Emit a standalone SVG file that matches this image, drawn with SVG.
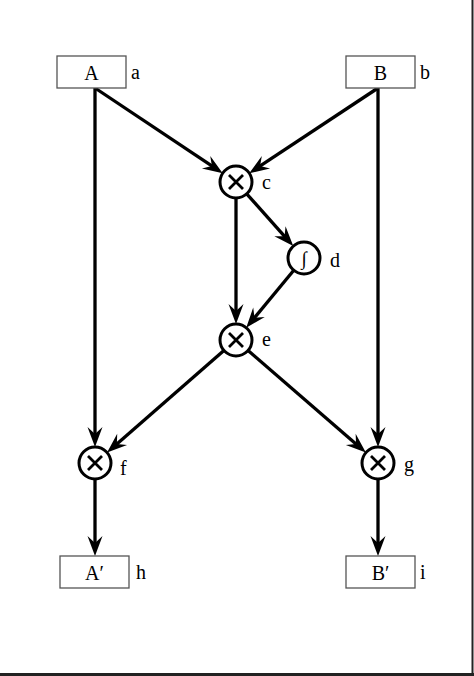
<svg xmlns="http://www.w3.org/2000/svg" width="474" height="676" viewBox="0 0 474 676">
<style>
.box{fill:#fff;stroke:#555;stroke-width:1.3}
.op{fill:#fff;stroke:#000;stroke-width:3}
.x{stroke:#000;stroke-width:2.8;fill:none}
.t{font-family:"Liberation Serif","Times New Roman",serif;font-size:20px;fill:#000}
.m{text-anchor:middle}
.c{stroke:#000;stroke-width:3.3;fill:none;marker-end:url(#ah)}
</style>
<defs>
<marker id="ah" markerUnits="userSpaceOnUse" viewBox="-11 -8 22 16" markerWidth="22" markerHeight="16" refX="0" refY="0" orient="auto">
<path d="M10,0 L-10,-7.5 L-3,0 L-10,7.5 Z" fill="#000"/>
</marker>
</defs>
<rect x="0" y="0" width="474" height="676" fill="#fff"/>
<line x1="472.5" y1="0" x2="472.5" y2="676" stroke="#222" stroke-width="2"/>
<line x1="0" y1="674.5" x2="474" y2="674.5" stroke="#222" stroke-width="3"/>
<g id="connectors">
<line class="c" x1="95" y1="88" x2="214.4" y2="167.7"/>
<line class="c" x1="378" y1="88" x2="257.6" y2="167.7"/>
<line class="c" x1="95" y1="88" x2="95" y2="437"/>
<line class="c" x1="378" y1="88" x2="378" y2="437"/>
<line class="c" x1="236" y1="198" x2="236" y2="314"/>
<line class="c" x1="246.7" y1="193.9" x2="286.6" y2="238.6"/>
<line class="c" x1="293.8" y1="270.3" x2="252.6" y2="320"/>
<line class="c" x1="223.9" y1="350.5" x2="114.6" y2="445.9"/>
<line class="c" x1="248.1" y1="350.5" x2="358.3" y2="446"/>
<line class="c" x1="95" y1="479" x2="95" y2="546"/>
<line class="c" x1="378" y1="479" x2="378" y2="546"/>
</g>
<g id="node-a">
<rect class="box" x="57" y="56" width="69" height="32"/>
<text class="t m" x="91.5" y="80">A</text>
<text class="t" x="131" y="79">a</text>
</g>
<g id="node-b">
<rect class="box" x="346" y="56" width="69" height="32"/>
<text class="t m" x="380.5" y="80">B</text>
<text class="t" x="420" y="79">b</text>
</g>
<g id="node-c">
<circle class="op" cx="236" cy="182" r="16"/>
<path class="x" d="M229,175 L243,189 M243,175 L229,189"/>
<text class="t" x="262" y="189">c</text>
</g>
<g id="node-d">
<circle class="op" cx="304" cy="258" r="16"/>
<text class="t m" x="304" y="265" style="font-size:19px">∫</text>
<text class="t" x="330" y="267">d</text>
</g>
<g id="node-e">
<circle class="op" cx="236" cy="340" r="16"/>
<path class="x" d="M229,333 L243,347 M243,333 L229,347"/>
<text class="t" x="262" y="346">e</text>
</g>
<g id="node-f">
<circle class="op" cx="95" cy="463" r="16"/>
<path class="x" d="M88,456 L102,470 M102,456 L88,470"/>
<text class="t" x="120" y="475">f</text>
</g>
<g id="node-g">
<circle class="op" cx="378" cy="463" r="16"/>
<path class="x" d="M371,456 L385,470 M385,456 L371,470"/>
<text class="t" x="404" y="471">g</text>
</g>
<g id="node-h">
<rect class="box" x="60" y="556" width="69" height="32"/>
<text class="t m" x="94.5" y="580">A′</text>
<text class="t" x="136" y="579">h</text>
</g>
<g id="node-i">
<rect class="box" x="346" y="556" width="69" height="32"/>
<text class="t m" x="380.5" y="580">B′</text>
<text class="t" x="420" y="579">i</text>
</g>
</svg>
